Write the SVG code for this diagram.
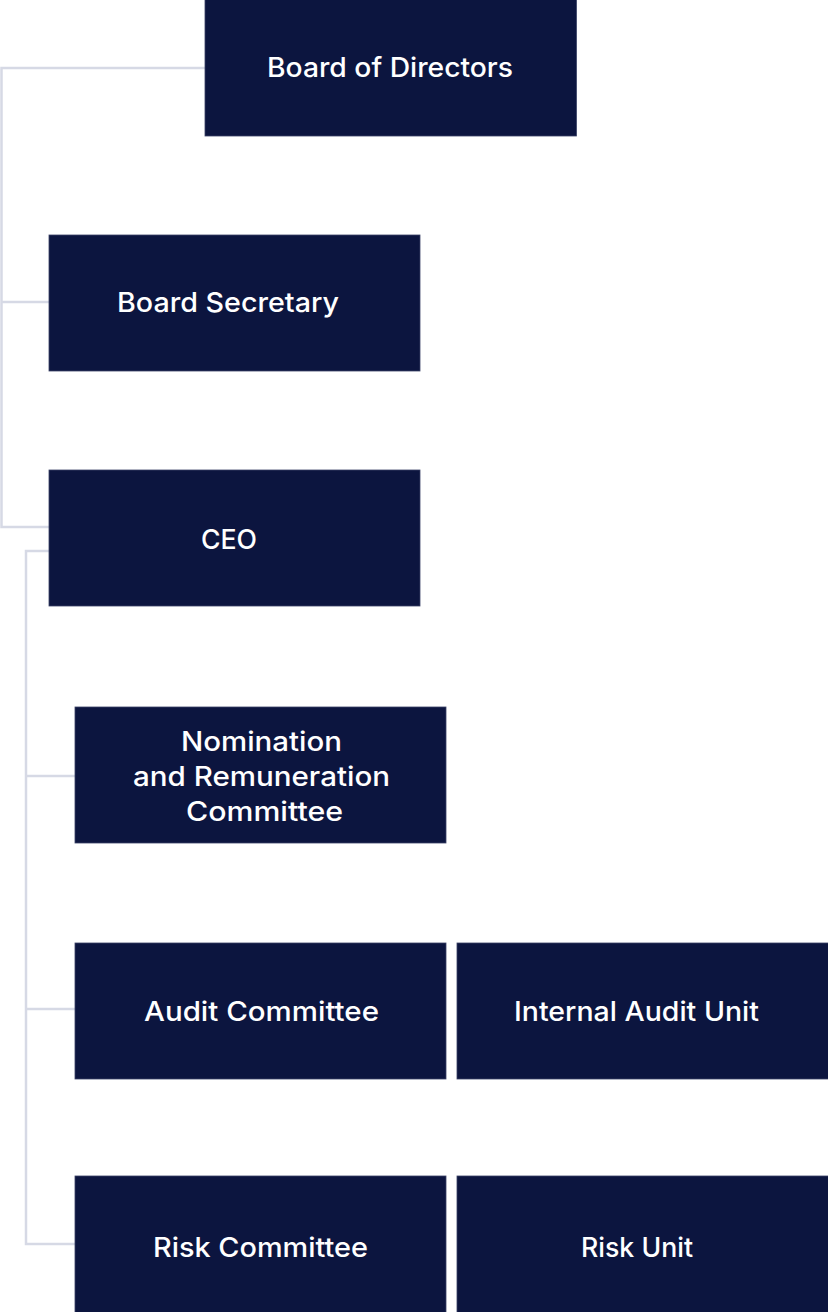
<svg xmlns="http://www.w3.org/2000/svg" width="828" height="1312" viewBox="0 0 828 1312">
<style>
.box{fill:#0c153f;stroke:#3a4266;stroke-width:0.8}
.lbl{fill:#ffffff;font-family:Inter,"Noto Sans","Liberation Sans",sans-serif;font-size:27px;font-weight:500;text-anchor:middle;dominant-baseline:central}
.conn{fill:none;stroke:#d6d9e5;stroke-width:2.5}
</style>
<rect width="828" height="1312" fill="#ffffff"/>
<g id="connectors">
<path class="conn" d="M205,68 H1.5 V527 H49"/>
<path class="conn" d="M1.5,302 H49"/>
<path class="conn" d="M49,551 H26 V1244 H75"/>
<path class="conn" d="M26,776 H75"/>
<path class="conn" d="M26,1009 H75"/>
</g>
<g id="board-of-directors">
<rect class="box" x="205" y="-1" width="371.5" height="137"/>
<text class="lbl" x="390" y="67" textLength="246" lengthAdjust="spacingAndGlyphs">Board of Directors</text>
</g>
<g id="board-secretary">
<rect class="box" x="49" y="235" width="371" height="136"/>
<text class="lbl" x="228" y="302" textLength="222" lengthAdjust="spacingAndGlyphs">Board Secretary</text>
</g>
<g id="ceo">
<rect class="box" x="49" y="470" width="371" height="136"/>
<text class="lbl" x="229" y="539" textLength="56" lengthAdjust="spacingAndGlyphs">CEO</text>
</g>
<g id="nomination-committee">
<rect class="box" x="75" y="707" width="371" height="136"/>
<text class="lbl" x="261.5" y="741" textLength="161" lengthAdjust="spacingAndGlyphs">Nomination</text>
<text class="lbl" x="261.5" y="776" textLength="257" lengthAdjust="spacingAndGlyphs">and Remuneration</text>
<text class="lbl" x="264.5" y="811" textLength="157" lengthAdjust="spacingAndGlyphs">Committee</text>
</g>
<g id="audit-committee">
<rect class="box" x="75" y="943" width="371" height="136"/>
<text class="lbl" x="261.5" y="1011" textLength="235" lengthAdjust="spacingAndGlyphs">Audit Committee</text>
</g>
<g id="internal-audit-unit">
<rect class="box" x="457" y="943" width="380" height="136"/>
<text class="lbl" x="636.5" y="1011" textLength="245" lengthAdjust="spacingAndGlyphs">Internal Audit Unit</text>
</g>
<g id="risk-committee">
<rect class="box" x="75" y="1176" width="371" height="140"/>
<text class="lbl" x="260.5" y="1247" textLength="215" lengthAdjust="spacingAndGlyphs">Risk Committee</text>
</g>
<g id="risk-unit">
<rect class="box" x="457" y="1176" width="380" height="140"/>
<text class="lbl" x="637" y="1247" textLength="112" lengthAdjust="spacingAndGlyphs">Risk Unit</text>
</g>
</svg>
